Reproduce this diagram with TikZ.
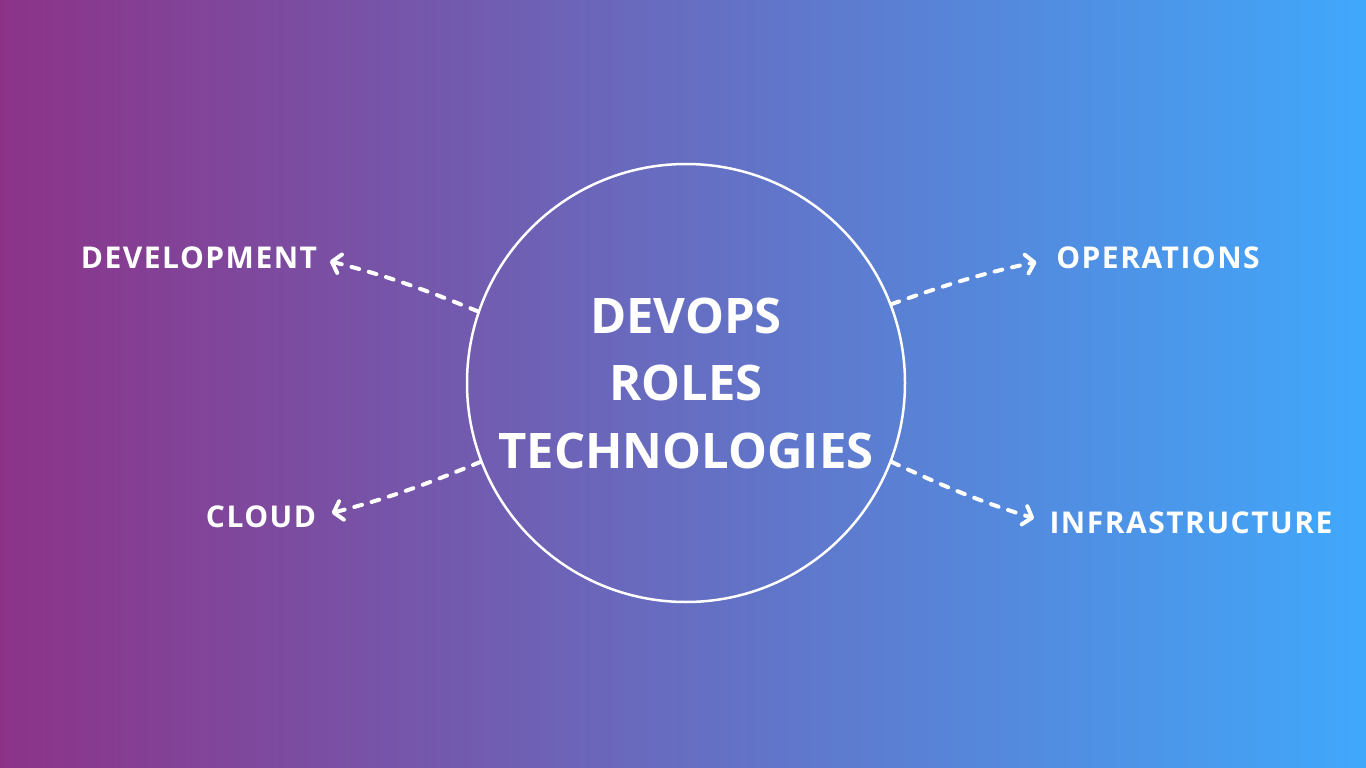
\documentclass[tikz,border=0pt]{standalone}
\usepackage{fontspec}
\setmainfont{Open Sans}
\newfontfamily\rolefont{Open Sans}[LetterSpace=5]
\usetikzlibrary{arrows.meta}
\definecolor{leftpurple}{HTML}{8C3388}
\definecolor{rightblue}{HTML}{40A8FB}
\begin{document}
\begin{tikzpicture}[
    x=1pt, y=-1pt,
    hub/.style={circle, draw=white, line width=2.5pt, minimum size=438pt, inner sep=0pt,
                text=white, font=\fontsize{49}{67.5}\selectfont\bfseries, align=center},
    rolebox/.style={inner sep=0pt, text=white, font=\rolefont\fontsize{30}{36}\selectfont\bfseries},
    dasharrow/.style={white, line width=4pt, line cap=round, dash pattern=on 8pt off 10pt,
                      -{Straight Barb[length=8pt, width=19pt, line cap=round, line join=round]}}
]

% background
\shade[left color=leftpurple, right color=rightblue] (0,0) rectangle (1366,768);

% centre circle
\node[hub] (hub) at (686,383) {DEVOPS\\ROLES\\TECHNOLOGIES};

% roles
\node[rolebox] (dev) at (199,258) {DEVELOPMENT};
\node[rolebox] (cloud) at (261,517) {CLOUD};
\node[rolebox] (ops) at (1158,258) {OPERATIONS};
\node[rolebox] (infra) at (1191,523) {INFRASTRUCTURE};

% Arrows
\draw[dasharrow, shorten >=13pt] (hub.161) to[bend right=4] (dev.east);
\draw[dasharrow, shorten >=16pt] (hub.201) to[bend left=4] (cloud.east);
\draw[dasharrow, shorten >=20pt] (hub.21) to[bend left=4] (ops.west);
\draw[dasharrow, shorten >=16pt] (hub.-21) to[bend right=4] (infra.west);

\end{tikzpicture}
\end{document}
